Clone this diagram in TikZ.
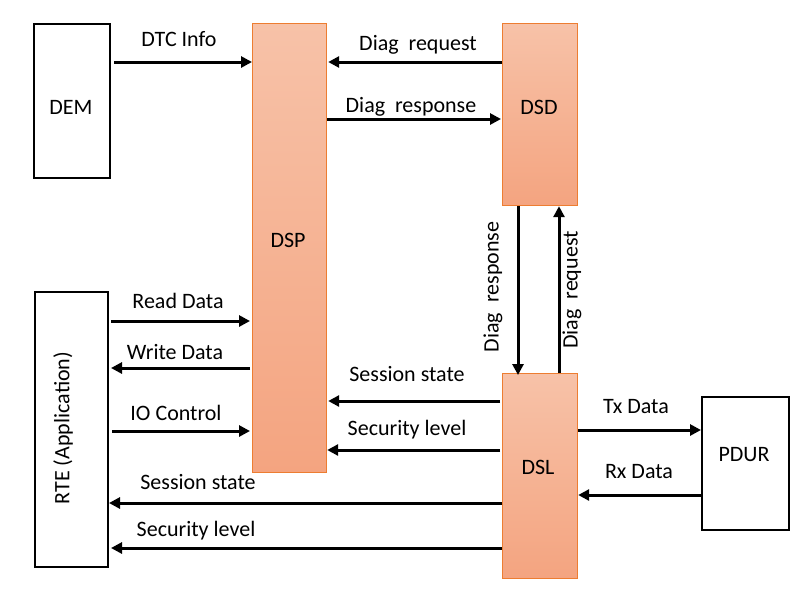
\documentclass[tikz,border=0pt]{standalone}
\usepackage{fontspec}
\setmainfont{Carlito}
\usetikzlibrary{arrows.meta}
\definecolor{boxorange}{RGB}{237,125,49}
\definecolor{topfill}{RGB}{247,194,168}
\definecolor{botfill}{RGB}{244,164,128}
\tikzset{
  plainbox/.style={draw=black, line width=2pt, fill=white, inner sep=0pt},
  orangebox/.style={draw=boxorange, line width=1.2pt, top color=topfill, bottom color=botfill, inner sep=0pt},
  arr/.style={line width=3pt, -{Triangle[length=11pt,width=11pt]}},
  lbl/.style={font=\fontsize{22}{26}\selectfont, inner sep=0pt, anchor=center}
}
\begin{document}
\begin{tikzpicture}[x=1pt,y=-1pt]
\useasboundingbox (0,0) rectangle (810,603);
% boxes
\node[plainbox, minimum width=76pt, minimum height=154pt, anchor=north west] (dem) at (33,23) {};
\node[orangebox, minimum width=74pt, minimum height=449pt, anchor=north west] (dsp) at (252,23) {};
\node[orangebox, minimum width=75pt, minimum height=182pt, anchor=north west] (dsd) at (502,23) {};
\node[orangebox, minimum width=75pt, minimum height=205pt, anchor=north west] (dsl) at (502,373) {};
\node[plainbox, minimum width=73pt, minimum height=275pt, anchor=north west] (rte) at (34,291) {};
\node[plainbox, minimum width=87pt, minimum height=133pt, anchor=north west] (pdur) at (701,396) {};
% box texts
\node[lbl] (demtxt) at (71,107) {DEM};
\node[lbl] (dsptxt) at (288,240) {DSP};
\node[lbl] (dsdtxt) at (539,107) {DSD};
\node[lbl] (dsltxt) at (538,467) {DSL};
\node[lbl] (pdurtxt) at (744,455) {PDUR};
\node[lbl, rotate=90] (rtetxt) at (63,428) {RTE (Application)};
% arrows
\draw[arr] ([xshift=3pt]dem.east |- 0,62) -- (dsp.west |- 0,62);
\draw[arr] (dsd.west |- 0,62) -- ([xshift=1pt]dsp.east |- 0,62);
\draw[arr] (dsp.east |- 0,119) -- ([xshift=-1pt]dsd.west |- 0,119);
\draw[arr] (dsd.south -| 518,0) -- ([yshift=-2pt]dsl.north -| 518,0);
\draw[arr] (dsl.north -| 559,0) -- (dsd.south -| 559,0);
\draw[arr] ([xshift=2pt]rte.east |- 0,321) -- ([xshift=-2pt]dsp.west |- 0,321);
\draw[arr] ([xshift=-2pt]dsp.west |- 0,368) -- ([xshift=2pt]rte.east |- 0,368);
\draw[arr] ([xshift=3pt]rte.east |- 0,431) -- ([xshift=-2pt]dsp.west |- 0,431);
\draw[arr] ([xshift=-2pt]dsl.west |- 0,401) -- ([xshift=1pt]dsp.east |- 0,401);
\draw[arr] ([xshift=-2pt]dsl.west |- 0,450) -- (dsp.east |- 0,450);
\draw[arr] (dsl.west |- 0,503) -- (rte.east |- 0,503);
\draw[arr] (dsl.west |- 0,548) -- ([xshift=2pt]rte.east |- 0,548);
\draw[arr] (dsl.east |- 0,430) -- (pdur.west |- 0,430);
\draw[arr] (pdur.west |- 0,495) -- (dsl.east |- 0,495);
% arrow labels
\node[lbl] (l1) at (179,39) {DTC Info};
\node[lbl] (l2) at (418,45) {Diag\ \ request};
\node[lbl] (l3) at (411,107) {Diag\ \ response};
\node[lbl, rotate=90] (l4) at (493,287) {Diag\ \ response};
\node[lbl, rotate=90] (l5) at (572,290) {Diag\ \ request};
\node[lbl] (l6) at (178,301) {Read Data};
\node[lbl] (l7) at (175,352) {Write Data};
\node[lbl] (l8) at (176,413) {IO Control};
\node[lbl] (l9) at (407,374) {Session state};
\node[lbl] (l10) at (407,430) {Security level};
\node[lbl] (l11) at (198,482) {Session state};
\node[lbl] (l12) at (196,531) {Security level};
\node[lbl] (l13) at (636,407) {Tx Data};
\node[lbl] (l14) at (639,472) {Rx Data};
\end{tikzpicture}
\end{document}
